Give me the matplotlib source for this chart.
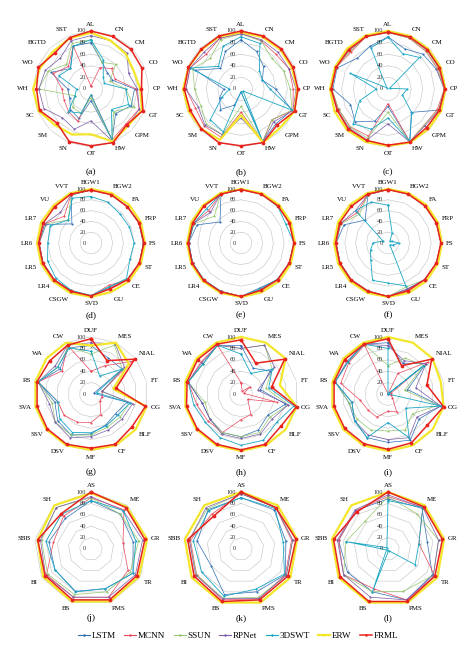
import matplotlib
matplotlib.use('Agg')
import matplotlib.pyplot as plt
from matplotlib.lines import Line2D
import numpy as np

plt.rcParams['font.family'] = 'serif'
plt.rcParams['font.serif'] = ['Liberation Serif', 'DejaVu Serif']

methods = ['LSTM', 'MCNN', 'SSUN', 'RPNet', '3DSWT', 'ERW', 'FRML']
colors = ['#2f6fb5', '#e8475c', '#95c66e', '#7a5ca8', '#1aa6c4', '#f4e62a', '#e8231d']

cats_1 = ['AL', 'CN', 'CM', 'CO', 'CP', 'GT', 'GPM', 'HW', 'OT', 'SN', 'SM', 'SC', 'WH', 'WO', 'BGTD', 'SST']
cats_2 = ['BGW1', 'BGW2', 'FA', 'FRP', 'FS', 'ST', 'CE', 'GU', 'SVD', 'CSGW', 'LR4', 'LR5', 'LR6', 'LR7', 'VU', 'VVT']
cats_3 = ['DUF', 'MES', 'NIAL', 'FT', 'OG', 'BLF', 'CF', 'MF', 'DSV', 'SSV', 'SVA', 'RS', 'WA', 'CW']
cats_4 = ['AS', 'ME', 'GR', 'TR', 'PMS', 'BS', 'BI', 'SBB', 'SH']

# rows follow the order of methods
panel_a = [[80, 50, 40, 40, 75, 75, 60, 95, 20, 55, 50, 40, 40, 75, 50, 80],
           [5, 40, 50, 45, 78, 90, 85, 95, 10, 60, 55, 50, 50, 70, 55, 80],
           [85, 50, 60, 35, 60, 80, 55, 95, 15, 45, 45, 30, 90, 80, 60, 85],
           [92, 90, 88, 70, 80, 90, 90, 98, 55, 75, 70, 88, 90, 85, 75, 90],
           [85, 55, 30, 25, 60, 70, 50, 95, 10, 45, 55, 30, 25, 60, 50, 80],
           [97, 90, 85, 80, 85, 95, 90, 98, 78, 85, 88, 98, 100, 95, 92, 95],
           [100, 98, 97, 95, 87, 97, 87, 100, 98, 98, 83, 96, 94, 98, 88, 96]]
panel_b = [[85, 70, 55, 40, 60, 95, 85, 98, 5, 30, 50, 40, 30, 85, 50, 70],
           [97, 90, 85, 90, 90, 97, 75, 98, 40, 90, 90, 85, 95, 95, 85, 95],
           [95, 90, 75, 80, 85, 95, 75, 98, 30, 85, 85, 75, 80, 90, 75, 92],
           [95, 92, 90, 90, 95, 97, 80, 98, 50, 85, 88, 80, 95, 95, 90, 95],
           [90, 85, 45, 40, 50, 97, 5, 98, 5, 80, 75, 35, 20, 95, 55, 80],
           [98, 97, 96, 95, 97, 100, 95, 100, 45, 95, 97, 98, 100, 98, 96, 98],
           [100, 99, 98, 97, 98, 100, 88, 100, 98, 100, 97, 95, 98, 98, 97, 99]]
panel_c = [[90, 75, 85, 90, 97, 95, 57, 98, 30, 60, 80, 70, 95, 95, 75, 80],
           [98, 95, 92, 92, 97, 92, 88, 98, 25, 88, 92, 92, 97, 97, 90, 98],
           [97, 95, 93, 93, 97, 94, 88, 98, 40, 92, 93, 92, 97, 97, 92, 98],
           [98, 97, 95, 95, 98, 95, 90, 99, 60, 95, 95, 94, 98, 98, 94, 98],
           [89, 66, 77, 3, 33, 27, 58, 98, 50, 75, 85, 53, 20, 70, 3, 77],
           [100, 99, 98, 98, 99, 99, 98, 100, 98, 99, 100, 100, 100, 99, 99, 100],
           [98, 97, 96, 96, 98, 96, 94, 99, 97, 96, 97, 95, 98, 97, 96, 98]]
panel_d = [[98, 97, 95, 96, 97, 97, 95, 88, 98, 96, 96, 96, 96, 90, 50, 96],
           [98, 97, 95, 96, 97, 97, 96, 85, 98, 96, 96, 96, 96, 93, 70, 97],
           [98, 97, 95, 96, 97, 97, 95, 88, 98, 96, 96, 96, 96, 92, 60, 96],
           [98, 97, 96, 96, 97, 97, 96, 90, 98, 96, 96, 96, 96, 93, 80, 97],
           [86, 82, 76, 77, 80, 78, 93, 88, 97, 95, 92, 87, 80, 82, 60, 90],
           [100, 100, 100, 100, 100, 100, 100, 98, 100, 100, 100, 100, 100, 100, 98, 100],
           [98, 97, 95, 97, 98, 97, 96, 92, 98, 97, 97, 97, 97, 96, 95, 98]]
panel_e = [[99, 98, 97, 97, 98, 97, 96, 90, 99, 97, 97, 97, 97, 88, 55, 97],
           [99, 98, 97, 97, 98, 97, 96, 93, 99, 97, 97, 97, 97, 95, 85, 98],
           [99, 98, 97, 97, 98, 97, 96, 93, 99, 97, 97, 97, 97, 94, 70, 98],
           [99, 98, 97, 97, 98, 97, 96, 94, 99, 97, 97, 97, 97, 95, 80, 98],
           [99, 98, 96, 90, 98, 97, 95, 92, 99, 97, 97, 97, 97, 95, 90, 98],
           [100, 100, 100, 100, 100, 100, 100, 99, 100, 100, 100, 100, 100, 100, 99, 100],
           [99, 98, 97, 97, 98, 97, 96, 95, 99, 98, 98, 98, 98, 97, 97, 98]]
panel_f = [[99, 98, 97, 97, 98, 97, 96, 93, 99, 96, 96, 96, 96, 88, 60, 97],
           [99, 98, 97, 97, 98, 97, 96, 94, 99, 96, 96, 96, 96, 95, 80, 97],
           [99, 98, 97, 97, 98, 97, 96, 88, 99, 96, 96, 96, 96, 94, 75, 97],
           [99, 98, 97, 97, 98, 97, 96, 92, 99, 97, 96, 96, 96, 95, 85, 97],
           [70, 20, 5, 8, 20, 10, 5, 86, 74, 75, 45, 35, 28, 10, 85, 82],
           [100, 100, 100, 100, 100, 100, 100, 100, 100, 100, 100, 100, 100, 100, 100, 100],
           [99, 98, 97, 97, 98, 97, 96, 96, 99, 97, 97, 97, 97, 97, 96, 98]]
panel_g = [[85, 70, 70, 5, 65, 55, 60, 70, 80, 75, 65, 95, 70, 90],
           [40, 55, 92, 20, 20, 20, 40, 50, 55, 60, 60, 95, 65, 95],
           [70, 95, 70, 20, 70, 65, 65, 72, 80, 80, 70, 95, 75, 92],
           [90, 98, 75, 20, 75, 70, 70, 75, 85, 80, 75, 95, 80, 95],
           [75, 35, 70, 10, 70, 60, 62, 68, 75, 70, 60, 95, 75, 90],
           [85, 100, 85, 40, 100, 100, 100, 98, 100, 100, 100, 100, 100, 100],
           [97, 65, 98, 45, 98, 92, 98, 95, 98, 98, 97, 97, 93, 95]]
panel_h = [[85, 50, 65, 35, 80, 60, 70, 75, 75, 70, 70, 95, 85, 95],
           [20, 5, 20, 5, 65, 15, 40, 45, 75, 75, 80, 95, 90, 95],
           [80, 95, 70, 45, 85, 65, 75, 75, 75, 70, 65, 95, 85, 95],
           [80, 95, 75, 30, 85, 70, 78, 78, 78, 70, 70, 95, 88, 95],
           [70, 40, 70, 50, 95, 80, 90, 90, 85, 80, 85, 95, 85, 95],
           [100, 100, 100, 70, 100, 100, 100, 100, 100, 100, 100, 100, 100, 100],
           [95, 60, 98, 55, 100, 90, 98, 98, 98, 98, 98, 97, 97, 97]]
panel_i = [[90, 60, 85, 35, 95, 70, 90, 85, 85, 75, 70, 95, 90, 97],
           [0, 40, 90, 5, 5, 10, 35, 30, 45, 45, 50, 85, 88, 95],
           [50, 70, 80, 30, 90, 55, 70, 65, 70, 70, 70, 95, 90, 97],
           [85, 65, 85, 50, 95, 65, 85, 80, 80, 75, 65, 95, 92, 97],
           [80, 0, 80, 0, 95, 40, 85, 50, 85, 75, 65, 95, 90, 97],
           [100, 100, 100, 95, 100, 100, 100, 100, 100, 100, 100, 100, 100, 100],
           [97, 55, 98, 70, 100, 88, 95, 97, 97, 97, 97, 97, 97, 97]]
panel_j = [[85, 80, 75, 85, 74, 79, 73, 75, 70],
           [90, 90, 57, 75, 90, 90, 90, 67, 75],
           [90, 80, 85, 80, 80, 85, 88, 88, 95],
           [92, 88, 92, 90, 90, 90, 92, 90, 95],
           [85, 88, 80, 85, 74, 80, 73, 80, 80],
           [98, 97, 100, 97, 98, 98, 97, 95, 100],
           [100, 95, 96, 93, 95, 95, 93, 95, 81]]
panel_k = [[90, 90, 80, 90, 80, 85, 60, 78, 90],
           [97, 95, 90, 90, 93, 95, 90, 90, 80],
           [97, 95, 92, 92, 90, 92, 90, 92, 92],
           [97, 95, 92, 92, 92, 93, 92, 92, 95],
           [90, 93, 75, 88, 75, 88, 80, 85, 88],
           [100, 100, 100, 100, 100, 100, 100, 100, 100],
           [100, 95, 98, 95, 95, 98, 95, 95, 75]]
panel_l = [[88, 93, 70, 90, 95, 80, 82, 88, 88],
           [92, 95, 55, 95, 95, 74, 90, 88, 88],
           [92, 80, 90, 92, 79, 80, 90, 75, 63],
           [95, 95, 90, 92, 95, 90, 90, 90, 90],
           [85, 95, 55, 55, 3, 80, 3, 75, 3],
           [100, 100, 100, 100, 100, 100, 100, 100, 100],
           [100, 97, 97, 95, 98, 98, 97, 97, 85]]

panels = [(panel_a, cats_1, '(a)'), (panel_b, cats_1, '(b)'), (panel_c, cats_1, '(c)'),
          (panel_d, cats_2, '(d)'), (panel_e, cats_2, '(e)'), (panel_f, cats_2, '(f)'),
          (panel_g, cats_3, '(g)'), (panel_h, cats_3, '(h)'), (panel_i, cats_3, '(i)'),
          (panel_j, cats_4, '(j)'), (panel_k, cats_4, '(k)'), (panel_l, cats_4, '(l)')]

W, H = 474, 650
col_x = [91, 241, 388]
row_y = [89, 243, 394, 549]
row_r = [58, 54, 57, 57]
label_y = [172, 315, 472, 618]

lws = [0.5, 0.5, 0.5, 0.5, 0.6, 1.6, 1.1]
mss = [1.5, 1.5, 1.5, 1.5, 1.5, 0, 2.7]

fig = plt.figure(figsize=(W / 100, H / 100), dpi=100)

for k, (vals, cats, tag) in enumerate(panels):
    row, col = k // 3, k % 3
    cx, cy, R = col_x[col], row_y[row], row_r[row]
    ax = fig.add_axes([(cx - R) / W, 1 - (cy + R) / H, 2 * R / W, 2 * R / H], projection='polar')
    ax.set_theta_zero_location('N')
    ax.set_theta_direction(-1)
    ax.set_ylim(0, 100)
    ax.axis('off')

    n = len(cats)
    ang = np.arange(n) * 2 * np.pi / n
    closed = np.append(ang, ang[0])
    for r in [20, 40, 60, 80, 100]:
        ax.plot(closed, [r] * (n + 1), color='#c8c8c8', lw=0.45, zorder=1)

    for i, m in enumerate(methods):
        v = vals[i] + vals[i][:1]
        ax.plot(closed, v, color=colors[i], lw=lws[i], marker='o' if mss[i] else None,
                ms=mss[i], mew=0, zorder=2 + i, clip_on=False)

    for v in [0, 20, 40, 60, 80, 100]:
        ax.annotate(str(v), xy=(0, v), xytext=(-5, 0), textcoords='offset pixels',
                    ha='right', va='center', fontsize=4.6, color='#333333', zorder=20)

    for a, c in zip(ang, cats):
        s, co = np.sin(a), np.cos(a)
        ha = 'left' if s > 0.15 else ('right' if s < -0.15 else 'center')
        va = 'bottom' if co > 0.3 else ('top' if co < -0.3 else 'center')
        ax.annotate(c, xy=(a, 100), xytext=(s * 3, co * 3), textcoords='offset points',
                    ha=ha, va=va, fontsize=5, zorder=20, annotation_clip=False)

    fig.text(cx / W, 1 - label_y[row] / H, tag, ha='center', va='center', fontsize=6.8)

handles = [Line2D([0], [0], color=colors[i], lw=max(lws[i], 0.8), marker='o', ms=1.8, mew=0)
           for i in range(len(methods))]
fig.legend(handles, methods, loc='center', bbox_to_anchor=(238 / W, 1 - 636 / H), ncol=7,
           frameon=False, fontsize=6.6, handlelength=1.3, handletextpad=0.2, columnspacing=0.9)

fig.savefig('out.png', dpi=100)
